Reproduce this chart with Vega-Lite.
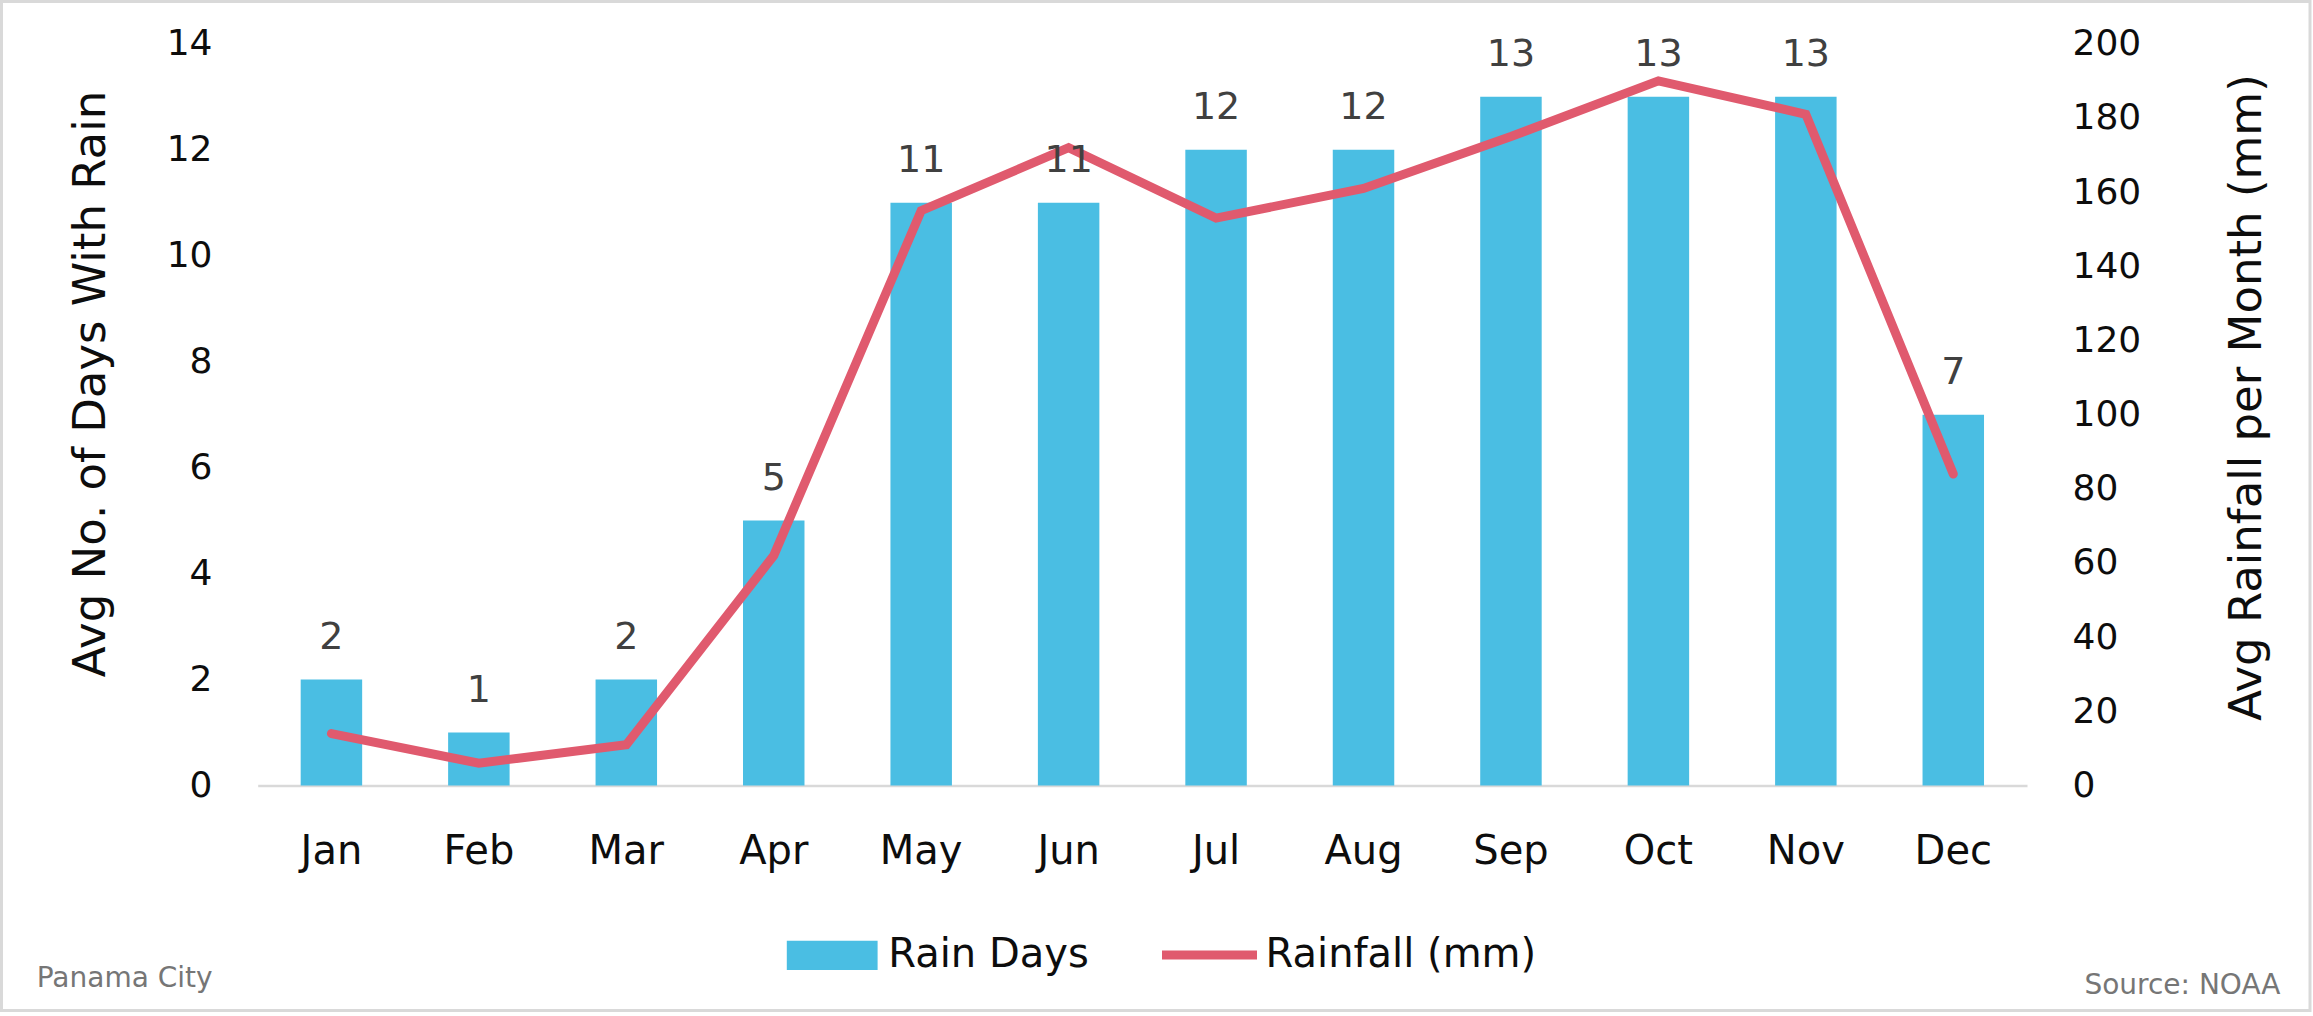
{
  "$schema": "https://vega.github.io/schema/vega-lite/v6.json",
  "width": 2308.5,
  "height": 1009,
  "autosize": {"type": "none"},
  "padding": {"left": 1.5, "top": 1.5, "right": 3, "bottom": 5.5},
  "background": "white",
  "config": {
    "view": {"stroke": "#D9D9D9", "strokeWidth": 3},
    "font": "DejaVu Sans"
  },
  "title": {
    "text": "Panama City",
    "orient": "bottom",
    "anchor": "start",
    "frame": "group",
    "offset": 0,
    "baseline": "alphabetic",
    "align": "left",
    "dx": 35.2,
    "dy": -23.2,
    "font": "DejaVu Sans",
    "fontSize": 28,
    "fontWeight": "normal",
    "color": "#767676"
  },
  "data": {
    "values": [
      {"month": "Jan", "days": 2, "rain": 14},
      {"month": "Feb", "days": 1, "rain": 6},
      {"month": "Mar", "days": 2, "rain": 11},
      {"month": "Apr", "days": 5, "rain": 62},
      {"month": "May", "days": 11, "rain": 155},
      {"month": "Jun", "days": 11, "rain": 172},
      {"month": "Jul", "days": 12, "rain": 153},
      {"month": "Aug", "days": 12, "rain": 161},
      {"month": "Sep", "days": 13, "rain": 175},
      {"month": "Oct", "days": 13, "rain": 190},
      {"month": "Nov", "days": 13, "rain": 181},
      {"month": "Dec", "days": 7, "rain": 84}
    ]
  },
  "encoding": {
    "x": {
      "field": "month",
      "type": "ordinal",
      "sort": null,
      "scale": {"range": [256.2, 2025.5], "paddingInner": 0.583, "paddingOuter": 0.2915},
      "axis": {
        "orient": "bottom",
        "offset": -225,
        "title": "Source: NOAA",
        "titleX": 2278.5,
        "titleY": 207.8,
        "titleAlign": "right",
        "titleBaseline": "alphabetic",
        "titleFont": "DejaVu Sans",
        "titleFontSize": 28,
        "titleFontWeight": "normal",
        "titleColor": "#767676",
        "labelAngle": 0,
        "labelFont": "DejaVu Sans",
        "labelFontSize": 40,
        "labelColor": "#0D0D0D",
        "labelPadding": 78,
        "labelBaseline": "alphabetic",
        "ticks": false,
        "tickSize": 0,
        "domainColor": "#D9D9D9",
        "domainWidth": 2.5,
        "grid": false
      }
    }
  },
  "layer": [
    {
      "mark": {"type": "bar"},
      "encoding": {
        "y": {
          "field": "days",
          "type": "quantitative",
          "scale": {"domain": [0, 14], "range": [784, 42.3], "nice": false},
          "axis": {
            "orient": "left",
            "offset": -210.5,
            "values": [0, 2, 4, 6, 8, 10, 12, 14],
            "grid": false,
            "domain": false,
            "ticks": false,
            "tickSize": 0,
            "labelPadding": 0,
            "labelFont": "DejaVu Sans",
            "labelFontSize": 36,
            "labelColor": "#0D0D0D",
            "title": "Avg No. of Days With Rain",
            "titleFont": "DejaVu Sans",
            "titleFontSize": 45,
            "titleFontWeight": "normal",
            "titleColor": "#0D0D0D",
            "titleX": -122,
            "titleY": 382,
            "titleAngle": 270,
            "titleBaseline": "middle",
            "titleAlign": "center"
          }
        },
        "fill": {
          "datum": "Rain Days",
          "type": "nominal",
          "scale": {"domain": ["Rain Days"], "range": ["#4ABEE3"]},
          "legend": {
            "title": null,
            "orient": "none",
            "legendX": 810.7,
            "legendY": 933.8,
            "padding": 0,
            "symbolType": "M-3.1,-1H3.1V1H-3.1Z",
            "symbolSize": 858,
            "symbolStrokeWidth": 0,
            "labelOffset": 36.1,
            "labelFont": "DejaVu Sans",
            "labelFontSize": 40,
            "labelColor": "#0D0D0D",
            "labelLimit": 500
          }
        }
      }
    },
    {
      "mark": {"type": "line", "strokeWidth": 9, "strokeCap": "round", "strokeJoin": "miter"},
      "encoding": {
        "y": {
          "field": "rain",
          "type": "quantitative",
          "scale": {"domain": [0, 200], "range": [784, 42.3], "nice": false},
          "axis": {
            "orient": "right",
            "offset": -238,
            "values": [0, 20, 40, 60, 80, 100, 120, 140, 160, 180, 200],
            "grid": false,
            "domain": false,
            "ticks": false,
            "tickSize": 0,
            "labelPadding": 0,
            "labelFont": "DejaVu Sans",
            "labelFontSize": 36,
            "labelColor": "#0D0D0D",
            "title": "Avg Rainfall per Month (mm)",
            "titleFont": "DejaVu Sans",
            "titleFontSize": 45,
            "titleFontWeight": "normal",
            "titleColor": "#0D0D0D",
            "titleX": 174,
            "titleY": 395.5,
            "titleAngle": 270,
            "titleBaseline": "middle",
            "titleAlign": "center"
          }
        },
        "stroke": {
          "datum": "Rainfall (mm)",
          "type": "nominal",
          "scale": {"domain": ["Rainfall (mm)"], "range": ["#E05A6E"]},
          "legend": {
            "title": null,
            "orient": "none",
            "legendX": 1156,
            "legendY": 901.5,
            "padding": 0,
            "symbolType": "stroke",
            "symbolSize": 9025,
            "symbolStrokeWidth": 9,
            "labelOffset": 4.1,
            "labelFont": "DejaVu Sans",
            "labelFontSize": 40,
            "labelColor": "#0D0D0D",
            "labelLimit": 500
          }
        }
      }
    },
    {
      "mark": {
        "type": "text",
        "dy": -31,
        "baseline": "alphabetic",
        "align": "center",
        "font": "DejaVu Sans",
        "fontSize": 38,
        "color": "#404040"
      },
      "encoding": {
        "y": {
          "field": "days",
          "type": "quantitative",
          "scale": {"domain": [0, 14], "range": [784, 42.3], "nice": false},
          "axis": null
        },
        "text": {"field": "days", "type": "quantitative"}
      }
    }
  ],
  "resolve": {"scale": {"y": "independent"}, "axis": {"y": "independent"}}
}
